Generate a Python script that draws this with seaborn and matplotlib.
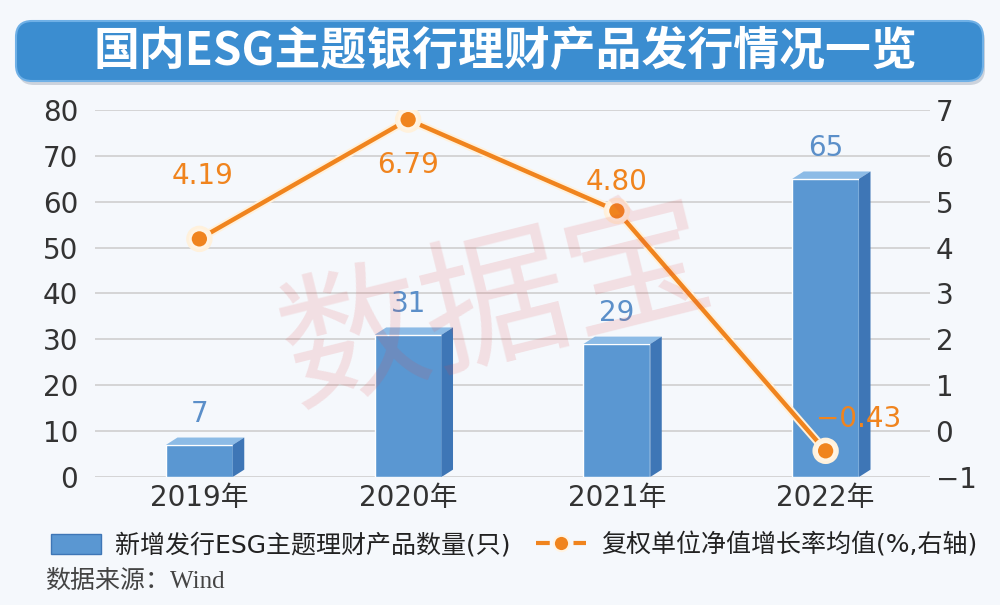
import matplotlib
matplotlib.use('Agg')
import matplotlib.pyplot as plt
import matplotlib.patheffects as pe
from matplotlib.patches import FancyBboxPatch, Polygon, Patch
from matplotlib.lines import Line2D
import seaborn as sns
import pandas as pd

# data
years = ['2019年', '2020年', '2021年', '2022年']
new_products = [7, 31, 29, 65]          # left axis, bars
nav_growth = [4.19, 6.79, 4.80, -0.43]  # right axis, line (%)

title = '国内ESG主题银行理财产品发行情况一览'
bar_label = '新增发行ESG主题理财产品数量(只)'
line_label = '复权单位净值增长率均值(%,右轴)'
source = '数据来源：Wind'
watermark = '数据宝'

sns.set_theme(style='white')
plt.rcParams['font.family'] = ['DejaVu Sans', 'Noto Sans CJK SC']
plt.rcParams['axes.unicode_minus'] = True

bar_front = '#5a97d2'
bar_side = '#3e76b6'
bar_top = '#8cbbe6'
orange = '#f0841e'
blue_text = '#5b8fc9'
tick_color = '#333333'
grid_color = '#d2d2d2'

df = pd.DataFrame({'year': years, 'count': new_products, 'rate': nav_growth})

fig = plt.figure(figsize=(10, 6.05), dpi=100, facecolor='#f5f8fc')

# background layer in pixel coords for the title banner
bg = fig.add_axes([0, 0, 1, 1], zorder=0)
bg.set_xlim(0, 1000)
bg.set_ylim(605, 0)
bg.axis('off')
bg.add_patch(FancyBboxPatch((18, 25), 967, 60, boxstyle='round,pad=0,rounding_size=16',
                            fc='#9aa8b8', ec='none', alpha=0.45))
bg.add_patch(FancyBboxPatch((16, 21), 967, 60, boxstyle='round,pad=0,rounding_size=16',
                            fc='#3b8dd0', ec='#6fb0e6', lw=1.5))
bg.text(505, 52, title, ha='center', va='center', color='white', fontsize=33,
        fontweight='bold', family=['Noto Sans CJK SC'])

ax = fig.add_axes([0.095, 0.2116, 0.835, 0.6066], zorder=2)
ax.set_facecolor('none')

sns.barplot(data=df, x='year', y='count', ax=ax, color=bar_front, width=0.32,
            saturation=1, zorder=3)

# fake 3D faces on each bar
dx, dy = 0.055, 1.6
for p, v in zip(ax.patches, new_products):
    x0, w, h = p.get_x(), p.get_width(), p.get_height()
    ax.add_patch(Polygon([(x0, h), (x0 + w, h), (x0 + w + dx, h + dy), (x0 + dx, h + dy)],
                         closed=True, fc=bar_top, ec='none', zorder=3))
    ax.add_patch(Polygon([(x0 + w, 0), (x0 + w + dx, dy), (x0 + w + dx, h + dy), (x0 + w, h)],
                         closed=True, fc=bar_side, ec='none', zorder=3))
    ax.annotate(str(v), (x0 + w / 2, h), xytext=(0, 12), textcoords='offset points',
                ha='center', va='bottom', fontsize=20, color=blue_text, zorder=5)

ax.set_ylim(0, 80)
ax.set_yticks(range(0, 81, 10))
ax.set_xlim(-0.5, 3.5)
ax.grid(axis='y', color=grid_color, lw=1.3)
ax.set_axisbelow(True)
ax.set_xlabel('')
ax.set_ylabel('')
ax.tick_params(axis='y', length=0, pad=12, labelsize=20, labelcolor=tick_color)
ax.tick_params(axis='x', length=0, pad=5, labelsize=20, labelcolor=tick_color)
for s in ax.spines.values():
    s.set_visible(False)

ax2 = ax.twinx()
ax2.set_zorder(3)
sns.lineplot(data=df, x='year', y='rate', ax=ax2, sort=False, color=orange, lw=3.2,
             marker='o', markersize=13, markerfacecolor=orange, markeredgecolor='#fff4e4',
             markeredgewidth=2,
             path_effects=[pe.Stroke(linewidth=6, foreground='#fff1dc'), pe.Normal()])
ax2.set_ylim(-1, 7)
ax2.set_yticks(range(-1, 8))
ax2.set_ylabel('')
ax2.grid(False)
ax2.tick_params(axis='y', length=0, pad=4, labelsize=20, labelcolor=tick_color)
for s in ax2.spines.values():
    s.set_visible(False)

label_offsets = [(2, 45), (0, -33), (0, 21), (24, 23)]
for i, (r, off) in enumerate(zip(nav_growth, label_offsets)):
    txt = f'{r:.2f}'.replace('-', '\u2212')
    ax2.annotate(txt, (i, r), xytext=off, textcoords='offset points', ha='center',
                 va='center', fontsize=20, color=orange, zorder=6)

# watermark
fig.text(0.497, 0.49, watermark, fontsize=105, color='#e04848', alpha=0.14,
         rotation=14, ha='center', va='center', family=['Noto Sans CJK SC'], zorder=10)

handles = [Patch(facecolor=bar_front, edgecolor=bar_side),
           Line2D([0], [0], color=orange, lw=3, ls=(0, (3.3, 5.7)), marker='o', markersize=11,
                  markerfacecolor=orange, markeredgecolor='#fff4e4', markeredgewidth=1.5)]
fig.legend(handles, [bar_label, line_label], loc='center left', bbox_to_anchor=(0.028, 0.099),
           ncol=2, frameon=False, fontsize=18, handlelength=2.0, handleheight=0.9,
           columnspacing=1.0, handletextpad=0.6, labelcolor='#222222')

fig.text(0.045, 0.04, source, fontsize=18, color='#444444', ha='left', va='center',
         family=['Liberation Serif', 'Noto Sans CJK SC'])

fig.savefig('out.png', dpi=100, facecolor=fig.get_facecolor())
